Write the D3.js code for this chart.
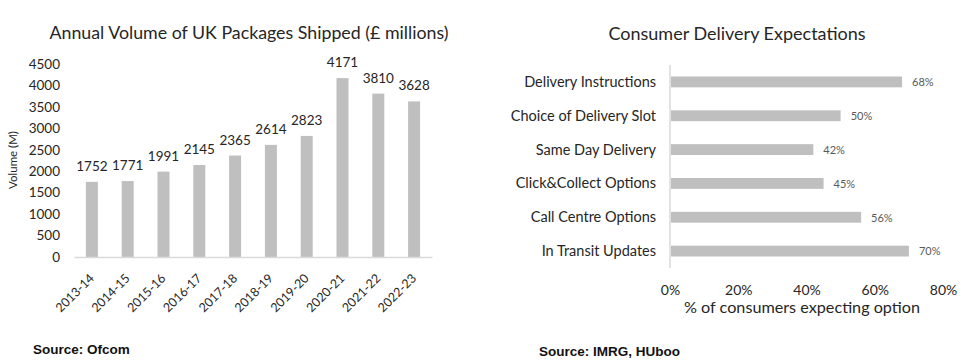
<!DOCTYPE html>
<html>
<head>
<meta charset="utf-8">
<script src="https://cdn.jsdelivr.net/npm/d3@7"></script>
<style>
  body { margin: 0; background: #fff; }
  svg { display: block; font-family: Lato, "Open Sans", sans-serif; }
</style>
</head>
<body>
<svg id="chart" width="966" height="363"></svg>
<script>
// left chart data
const years = ["2013-14","2014-15","2015-16","2016-17","2017-18","2018-19","2019-20","2020-21","2021-22","2022-23"];
const volumes = [1752,1771,1991,2145,2365,2614,2823,4171,3810,3628];
const volTicks = [0,500,1000,1500,2000,2500,3000,3500,4000,4500];

// right chart data
const options = ["Delivery Instructions","Choice of Delivery Slot","Same Day Delivery","Click&Collect Options","Call Centre Options","In Transit Updates"];
const shares = [68,50,42,45,56,70];
const pctTicks = [0,20,40,60,80];

const svg = d3.select("#chart");
const barColor = "#bfbfbf";
const textColor = "#262626";

// ---- left: annual volume ----
var left = { x0: 74, x1: 432, top: 64, bottom: 257 };

var x = d3.scaleBand()
    .domain(years)
    .range([left.x0, left.x1]);

var y = d3.scaleLinear()
    .domain([0, 4500])
    .range([left.bottom, left.top]);

svg.append("text")
    .attr("x", 249).attr("y", 39)
    .attr("text-anchor", "middle")
    .attr("font-size", 17.8)
    .attr("fill", textColor)
    .text("Annual Volume of UK Packages Shipped (£ millions)");

// y tick labels (no axis line in the original)
svg.append("g")
    .selectAll("text")
    .data(volTicks)
    .enter()
    .append("text")
    .attr("x", 60)
    .attr("y", d => y(d))
    .attr("dy", "0.35em")
    .attr("text-anchor", "end")
    .attr("font-size", 13.5)
    .attr("fill", textColor)
    .text(d => d);

svg.append("text")
    .attr("transform", "translate(17,160) rotate(-90)")
    .attr("text-anchor", "middle")
    .attr("font-size", 11.5)
    .attr("fill", textColor)
    .text("Volume (M)");

var barW = 12;
svg.append("g")
    .selectAll("rect")
    .data(volumes)
    .enter()
    .append("rect")
    .attr("x", (d, i) => x(years[i]) + x.bandwidth() / 2 - barW / 2)
    .attr("y", d => y(d))
    .attr("width", barW)
    .attr("height", d => left.bottom - y(d))
    .attr("fill", barColor);

svg.append("g")
    .selectAll("text")
    .data(volumes)
    .enter()
    .append("text")
    .attr("x", (d, i) => x(years[i]) + x.bandwidth() / 2)
    .attr("y", d => y(d) - 11)
    .attr("text-anchor", "middle")
    .attr("font-size", 13.5)
    .attr("fill", textColor)
    .text(d => d);

// bottom axis
var xAxis = svg.append("g")
    .attr("transform", "translate(0," + left.bottom + ")")
    .call(d3.axisBottom(x).tickSize(0).tickPadding(0));
xAxis.select(".domain").attr("stroke", "#d9d9d9").attr("stroke-width", 1.5);
xAxis.selectAll("text")
    .attr("font-family", "Lato, sans-serif")
    .attr("font-size", 12.5)
    .attr("fill", textColor)
    .attr("text-anchor", "end")
    .attr("dy", null)
    .attr("transform", "translate(3,22) rotate(-45)");

svg.append("text")
    .attr("x", 33).attr("y", 354)
    .attr("font-family", "Liberation Sans, Arial, sans-serif")
    .attr("font-weight", "bold")
    .attr("font-size", 13.5)
    .attr("fill", "#111")
    .text("Source: Ofcom");

// ---- right: consumer expectations ----
var right = { x0: 670, x1: 943, top: 65, bottom: 268 };

var xr = d3.scaleLinear()
    .domain([0, 80])
    .range([right.x0, right.x1]);

var yr = d3.scaleBand()
    .domain(options)
    .range([right.top, right.bottom])
    .paddingInner(0.68)
    .paddingOuter(0.34);

svg.append("text")
    .attr("x", 737).attr("y", 40)
    .attr("text-anchor", "middle")
    .attr("font-size", 18)
    .attr("fill", textColor)
    .text("Consumer Delivery Expectations");

svg.append("line")
    .attr("x1", right.x0).attr("x2", right.x0)
    .attr("y1", right.top).attr("y2", right.bottom)
    .attr("stroke", "#d9d9d9")
    .attr("stroke-width", 1.5);

svg.append("g")
    .selectAll("rect")
    .data(shares)
    .enter()
    .append("rect")
    .attr("x", right.x0 + 1)
    .attr("y", (d, i) => yr(options[i]))
    .attr("width", d => xr(d) - right.x0 - 1)
    .attr("height", yr.bandwidth())
    .attr("fill", barColor);

svg.append("g")
    .selectAll("text")
    .data(options)
    .enter()
    .append("text")
    .attr("x", 656)
    .attr("y", d => yr(d) + yr.bandwidth() / 2)
    .attr("dy", "0.35em")
    .attr("text-anchor", "end")
    .attr("font-size", 14.5)
    .attr("fill", textColor)
    .text(d => d);

svg.append("g")
    .selectAll("text")
    .data(shares)
    .enter()
    .append("text")
    .attr("x", d => xr(d) + 10)
    .attr("y", (d, i) => yr(options[i]) + yr.bandwidth() / 2)
    .attr("dy", "0.4em")
    .attr("font-size", 11)
    .attr("fill", "#595959")
    .text(d => d + "%");

var xrAxis = svg.append("g")
    .attr("transform", "translate(0,290)")
    .call(d3.axisBottom(xr).tickValues(pctTicks).tickSize(0).tickPadding(0).tickFormat(d => d + "%"));
xrAxis.select(".domain").remove();
xrAxis.selectAll("text")
    .attr("font-family", "Lato, sans-serif")
    .attr("font-size", 14)
    .attr("fill", textColor)
    .attr("dy", "0.35em");

svg.append("text")
    .attr("x", 802).attr("y", 313)
    .attr("text-anchor", "middle")
    .attr("font-size", 16.2)
    .attr("fill", textColor)
    .text("% of consumers expecting option");

svg.append("text")
    .attr("x", 539).attr("y", 356)
    .attr("font-family", "Liberation Sans, Arial, sans-serif")
    .attr("font-weight", "bold")
    .attr("font-size", 13.5)
    .attr("fill", "#111")
    .text("Source: IMRG, HUboo");
</script>
</body>
</html>
